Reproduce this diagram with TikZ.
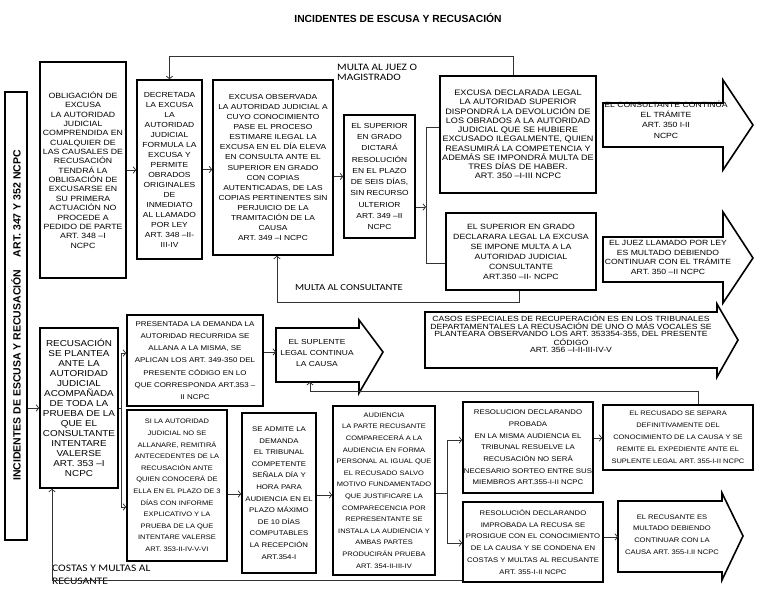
\documentclass[tikz,border=0pt]{standalone}
\usepackage{fontspec}
\setmainfont{Liberation Sans}
\newfontfamily\boxfont{Liberation Sans}[FakeStretch=1.15]
\newfontfamily\labfont{Carlito}[FakeStretch=1.15]
\usetikzlibrary{arrows.meta,positioning}

\newcommand{\fs}[2]{\boxfont\fontsize{#1}{#2}\selectfont}

\begin{document}
\begin{tikzpicture}[
	x=1pt, y=-1pt,
	>={Straight Barb[length=2.6pt,width=6.5pt]},
	box/.style 2 args = {draw, line width=1.6pt, align=center, inner sep=1pt,
		minimum width=#1pt, minimum height=#2pt},
	conn/.style = {draw=black!80, line width=0.75pt},
	blk/.style = {draw, line width=1.6pt, line join=miter},
	txt/.style = {align=center, inner sep=0pt},
	lbl/.style = {align=left, inner sep=0pt}
	]
	\fill[white] (0,0) rectangle (768,594);
	\useasboundingbox (0,0) rectangle (768,594);
	
	\node (title) at (398,18) {\bfseries\fontsize{10.3}{12}\selectfont INCIDENTES DE ESCUSA Y RECUSACIÓN};
	
	% excusa
	\node (vbox) [box={22}{448}] at (16,316) {};
	\node (vtext) [rotate=90, inner sep=0pt, font=\bfseries\fontsize{10.5}{12}\selectfont] at (16,315.5)
		{INCIDENTES DE ESCUSA Y RECUSACIÓN\hspace{1.2em}ART. 347 Y 352 NCPC};
	\node (obl) [box={86}{216}, font=\fs{7.6}{9.35}] at (83,170)
		{OBLIGACIÓN DE\\EXCUSA\\LA AUTORIDAD\\JUDICIAL\\COMPRENDIDA EN\\CUALQUIER DE\\LAS CAUSALES DE\\RECUSACIÓN\\TENDRÁ LA\\OBLIGACIÓN DE\\EXCUSARSE EN\\SU PRIMERA\\ACTUACIÓN NO\\PROCEDE A\\PEDIDO DE PARTE\\ART. 348 –I\\NCPC};
	\node (dec) [box={65}{179}, font=\fs{7.35}{10}] at (169.5,169.5)
		{DECRETADA\\LA EXCUSA\\LA\\AUTORIDAD\\JUDICIAL\\FORMULA LA\\EXCUSA Y\\PERMITE\\OBRADOS\\ORIGINALES\\DE\\INMEDIATO\\AL LLAMADO\\POR LEY\\ART. 348 –II-\\III-IV};
	\node (obs) [box={120}{175}, font=\fs{7.3}{10.05}] at (273,167.5)
		{EXCUSA OBSERVADA\\LA AUTORIDAD JUDICIAL A\\CUYO CONOCIMIENTO\\PASE EL PROCESO\\ESTIMARE ILEGAL LA\\EXCUSA EN EL DÍA ELEVA\\EN CONSULTA ANTE EL\\SUPERIOR EN GRADO\\CON COPIAS\\AUTENTICADAS, DE LAS\\COPIAS PERTINENTES SIN\\PERJUICIO DE LA\\TRAMITACIÓN DE LA\\CAUSA\\ART. 349 –I NCPC};
	\node (sup) [box={71}{123}, font=\fs{7.3}{11.3}] at (379.5,176.5)
		{EL SUPERIOR\\EN GRADO\\DICTARÁ\\RESOLUCIÓN\\EN EL PLAZO\\DE SEIS DÍAS,\\SIN RECURSO\\ULTERIOR\\ART. 349 –II\\NCPC};
	\node (exc) [box={156}{117}, font=\fs{7.9}{9.25}] at (518,134.5)
		{EXCUSA DECLARADA LEGAL\\LA AUTORIDAD SUPERIOR\\DISPONDRÁ LA DEVOLUCIÓN DE\\LOS OBRADOS A LA AUTORIDAD\\JUDICIAL QUE SE HUBIERE\\EXCUSADO ILEGALMENTE, QUIEN\\REASUMIRÁ LA COMPETENCIA Y\\ADEMÁS SE IMPONDRÁ MULTA DE\\TRES DÍAS DE HABER.\\ART. 350 –I-III NCPC};
	\node (leg) [box={150}{77}, font=\fs{7.6}{10}] at (521,251.5)
		{EL SUPERIOR EN GRADO\\DECLARARA LEGAL LA EXCUSA\\SE IMPONE MULTA A LA\\AUTORIDAD JUDICIAL\\CONSULTANTE\\ART.350 –II- NCPC};
	
	\draw[blk] (603,103) -- (723,103) -- (723,80) -- (753,125) -- (723,170) -- (723,147) -- (603,147) -- cycle;
	\node (cons) [txt, font=\fs{7.5}{10.3}] at (666,119.5)
		{EL CONSULTANTE CONTINÚA\\EL TRÁMITE\\ART. 350 I-II\\NCPC};
	\draw[blk] (603,237) -- (723,237) -- (723,212) -- (753,258) -- (723,303) -- (723,282) -- (603,282) -- cycle;
	\node (juez) [txt, font=\fs{7.5}{9.7}] at (668,257.5)
		{EL JUEZ LLAMADO POR LEY\\ES MULTADO DEBIENDO\\CONTINUAR CON EL TRÁMITE\\ART. 350 –II NCPC};
	\draw[blk] (425,312) -- (717,312) -- (717,304) -- (738,340) -- (717,377) -- (717,368) -- (425,368) -- cycle;
	\node (casos) [txt, font=\fs{7.5}{7.4}] at (571,334)
		{CASOS ESPECIALES DE RECUPERACIÓN ES EN LOS TRIBUNALES\\DEPARTAMENTALES LA RECUSACIÓN DE UNO O MÁS VOCALES SE\\PLANTEARA OBSERVANDO LOS ART. 353354-355, DEL PRESENTE\\CÓDIGO\\ART. 356 –I-II-III-IV-V};
	
	% recusacion
	\node (recu) [box={78}{160}, font=\fs{8.6}{10}] at (79,408)
		{RECUSACIÓN\\SE PLANTEA\\ANTE LA\\AUTORIDAD\\JUDICIAL\\ACOMPAÑADA\\DE TODA LA\\PRUEBA DE LA\\QUE EL\\CONSULTANTE\\INTENTARE\\VALERSE\\ART. 353 –I\\NCPC};
	\node (pres) [box={136}{91}, font=\fs{6.9}{12.2}] at (195,360.5)
		{PRESENTADA LA DEMANDA LA\\AUTORIDAD RECURRIDA SE\\ALLANA A LA MISMA, SE\\APLICAN LOS ART. 349-350 DEL\\PRESENTE CÓDIGO EN LO\\QUE CORRESPONDA ART.353 –\\II NCPC};
	\draw[blk] (276,328) -- (359,328) -- (359,320) -- (383,352) -- (359,393) -- (359,382) -- (276,382) -- cycle;
	\node (suple) [txt, font=\fs{7.3}{11}] at (317,353)
		{EL SUPLENTE\\LEGAL CONTINUA\\LA CAUSA};
	\node (sial) [box={100}{151}, font=\fs{6.5}{11.6}] at (177,485.5)
		{SI LA AUTORIDAD\\JUDICIAL NO SE\\ALLANARE, REMITIRÁ\\ANTECEDENTES DE LA\\RECUSACIÓN ANTE\\QUIEN CONOCERÁ DE\\ELLA EN EL PLAZO DE 3\\DÍAS CON INFORME\\EXPLICATIVO Y LA\\PRUEBA DE LA QUE\\INTENTARE VALERSE\\ART. 353-II-IV-V-VI};
	\node (adm) [box={74}{160}, font=\fs{6.8}{11.6}] at (279,493)
		{SE ADMITE LA\\DEMANDA\\EL TRIBUNAL\\COMPETENTE\\SEÑALA DÍA Y\\HORA PARA\\AUDIENCIA EN EL\\PLAZO MÁXIMO\\DE 10 DÍAS\\COMPUTABLES\\LA RECEPCIÓN\\ART.354-I};
	\node (aud) [box={102}{169}, font=\fs{6.5}{11.6}] at (384,490.5)
		{AUDIENCIA\\LA PARTE RECUSANTE\\COMPARECERÁ A LA\\AUDIENCIA EN FORMA\\PERSONAL AL IGUAL QUE\\EL RECUSADO SALVO\\MOTIVO FUNDAMENTADO\\QUE JUSTIFICARE LA\\COMPARECENCIA POR\\REPRESENTANTE SE\\INSTALA LA AUDIENCIA Y\\AMBAS PARTES\\PRODUCIRÁN PRUEBA\\ART. 354-II-III-IV};
	\node (prob) [box={130}{91}, font=\fs{6.8}{11.7}] at (528,447.5)
		{RESOLUCION DECLARANDO\\PROBADA\\EN LA MISMA AUDIENCIA EL\\TRIBUNAL RESUELVE LA\\RECUSACIÓN NO SERÁ\\NECESARIO SORTEO ENTRE SUS\\MIEMBROS ART.355-I-II NCPC};
	\node (sep) [box={150}{65}, font=\fs{6.5}{12}] at (678,437.5)
		{EL RECUSADO SE SEPARA\\DEFINITIVAMENTE DEL\\CONOCIMIENTO DE LA CAUSA Y SE\\REMITE EL EXPEDIENTE ANTE EL\\SUPLENTE LEGAL ART. 355-I-II NCPC};
	\node (impr) [box={140}{80}, font=\fs{6.7}{11.8}] at (533,542)
		{RESOLUCIÓN DECLARANDO\\IMPROBADA LA RECUSA SE\\PROSIGUE CON EL CONOCIMIENTO\\DE LA CAUSA Y SE CONDENA EN\\COSTAS Y MULTAS AL RECUSANTE\\ART. 355-I-II NCPC};
	\draw[blk] (618,501) -- (722,501) -- (722,493) -- (743,536) -- (722,580) -- (722,572) -- (618,572) -- cycle;
	\node (mult) [txt, font=\fs{6.6}{11.7}] at (672,534.5)
		{EL RECUSANTE ES\\MULTADO DEBIENDO\\CONTINUAR CON LA\\CAUSA ART. 355-I.II NCPC};
	
	% etiquetas
	\node (ljuez) [lbl, anchor=west, font=\labfont\fontsize{9.8}{10}\selectfont] at (337,72) {MULTA AL JUEZ O\\MAGISTRADO};
	\node (lcons) [lbl, font=\labfont\fontsize{9.2}{10}\selectfont] at (349,288) {MULTA AL CONSULTANTE};
	\node (lcost) [lbl, anchor=west, font=\labfont\fontsize{10}{13}\selectfont] at (52,575) {COSTAS Y MULTAS AL\\RECUSANTE};
	
	% puntos de union
	\coordinate (bt) at (426,127);
	\coordinate (bm) at (426,207);
	\coordinate (bb) at (426,263);
	\coordinate (rf1) at (121,353);
	\coordinate (rf2) at (121,507);
	\coordinate (af1) at (447,440);
	\coordinate (af2) at (447,543);
	\coordinate (suplw) at (276,352);
	\coordinate (suplb) at (310,382);
	\coordinate (multw) at (618,537);
	%
	\draw[conn,->] (obl.east) -- (obl.east -| dec.west);
	\draw[conn,->] (dec.east) -- (dec.east -| obs.west);
	\draw[conn,->] (obs.east |- sup.west) -- (sup.west);
	\draw[conn] (bt -| exc.west) -- (bt) -- (bb) -- (bb -| leg.west);
	\draw[conn,->] (bm -| sup.east) -- (bm);
	\draw[conn,->] (exc.north -| 513,0) -- ++(0,-19) -| (dec.north);
	\draw[conn,->] (leg.south -| 519,0) -- ++(0,12) -| (obs.south -| 277,0);
	\draw[conn,->] (vbox.east |- recu.west) -- (recu.west);
	\draw[conn] (recu.east) -- (recu.east -| rf1);
	\draw[conn] (rf1) -- (rf2);
	\draw[conn,->] (rf1) -- (rf1 -| pres.west);
	\draw[conn,->] (rf2) -- (rf2 -| sial.west);
	\draw[conn,->] (suplw -| pres.east) -- (suplw);
	\draw[conn,->] (sep.north -| 698,0) -- ++(0,-13) -| (suplb);
	\draw[conn,->] (sial.east |- 0,494) -- (adm.west |- 0,494);
	\draw[conn,->] (adm.east |- 0,495) -- (aud.west |- 0,495);
	\draw[conn] (aud.east |- 0,493) -- (af1 |- 0,493);
	\draw[conn] (af1) -- (af2);
	\draw[conn,->] (af1) -- (af1 -| prob.west);
	\draw[conn,->] (af2) -- (af2 -| impr.west);
	\draw[conn,->] (prob.east |- 0,438) -- (sep.west |- 0,438);
	\draw[conn,->] (impr.east |- multw) -- (multw);
	\draw[conn,->] (impr.west |- 0,580) -| (recu.south -| 52,0);
\end{tikzpicture}
\end{document}
